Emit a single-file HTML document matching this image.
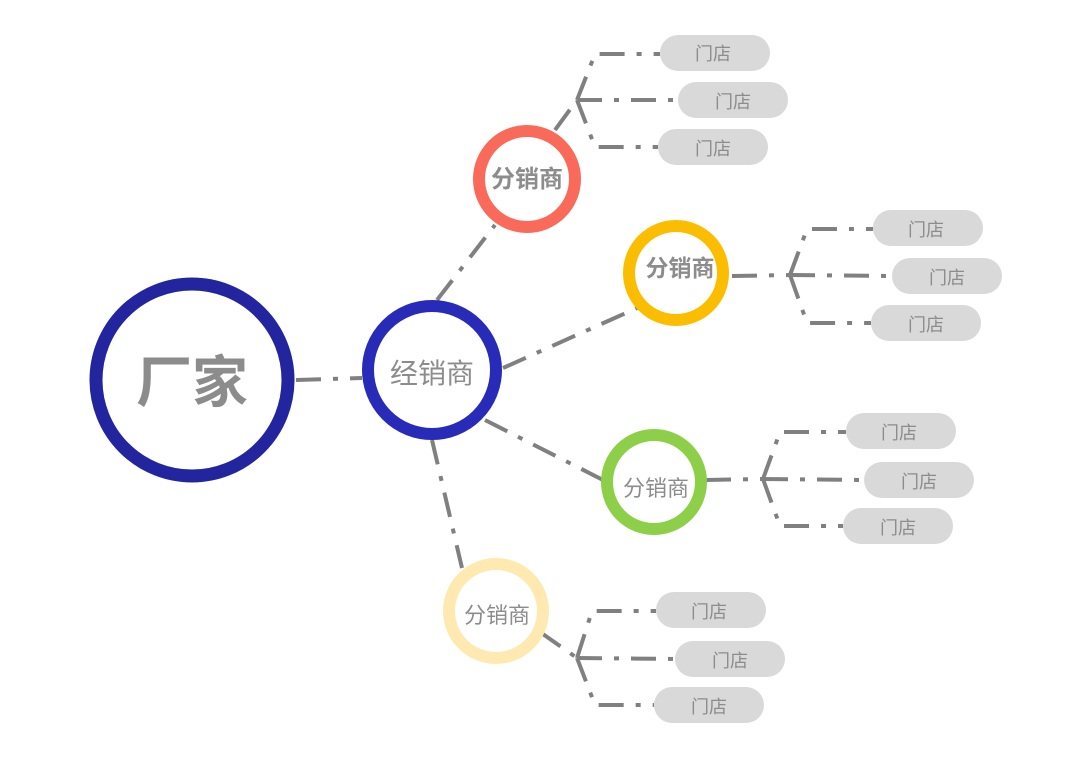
<!DOCTYPE html>
<html><head><meta charset="utf-8"><style>
html,body{margin:0;padding:0;background:#fff;}
svg{display:block;}
text{font-family:"Liberation Sans","Noto Sans CJK SC",sans-serif;fill:#8c8c8c;text-anchor:middle;}
</style></head><body>
<svg width="1084" height="772" viewBox="0 0 1084 772" xmlns="http://www.w3.org/2000/svg">
<g fill="none" stroke="#808080" stroke-width="4" stroke-dasharray="25 12 5 12">
<!-- main -->
<path d="M296 380 L362 378"/>
<path d="M437 300 L495 225"/>
<path d="M503 368 L637 308"/>
<path d="M485 420 L603 480"/>
<path d="M432 440 L462 568"/>
<!-- red -->
<path d="M555 130 L577 100"/>
<path d="M577 100 L595 54 L660 54"/>
<path d="M577 100 L678 100"/>
<path d="M577 100 L595 147 L658 147"/>
<!-- yellow -->
<path d="M732 276 L790 275"/>
<path d="M790 275 L807 229 L873 229"/>
<path d="M790 275 L892 276"/>
<path d="M790 275 L807 323 L871 323"/>
<!-- green -->
<path d="M706 480 L763 479"/>
<path d="M763 479 L780 432 L846 432"/>
<path d="M763 479 L864 480"/>
<path d="M763 479 L780 526 L843 526"/>
<!-- light -->
<path d="M540 632 L577 658"/>
<path d="M577 658 L592 611 L656 611"/>
<path d="M577 658 L675 659"/>
<path d="M577 658 L595 705 L654 705"/>
</g>
<!-- circles -->
<circle cx="192" cy="380" r="96" fill="#fff" stroke="#22259e" stroke-width="13"/>
<circle cx="432" cy="370" r="64" fill="#fff" stroke="#272bb8" stroke-width="12"/>
<circle cx="527" cy="179" r="48" fill="#fff" stroke="#f96a5a" stroke-width="12"/>
<circle cx="676" cy="273" r="47" fill="#fff" stroke="#fbbd00" stroke-width="12"/>
<circle cx="654" cy="482" r="47" fill="#fff" stroke="#8ecf4a" stroke-width="12"/>
<circle cx="496" cy="611" r="47" fill="#fff" stroke="#feeab0" stroke-width="12"/>
<text x="192" y="402" font-size="56" font-weight="bold" fill="#959595">厂家</text>
<text x="432" y="383" font-size="28">经销商</text>
<text x="527" y="187" font-size="24" font-weight="bold">分销商</text>
<text x="680" y="276" font-size="23" font-weight="bold">分销商</text>
<text x="656" y="496" font-size="22">分销商</text>
<text x="497" y="623" font-size="22">分销商</text>
<!-- pills -->
<g fill="#d9d9d9">
<rect x="660" y="35" width="110" height="36" rx="18"/>
<rect x="678" y="82" width="110" height="36" rx="18"/>
<rect x="658" y="129" width="110" height="36" rx="18"/>
<rect x="873" y="210" width="110" height="36" rx="18"/>
<rect x="892" y="258" width="110" height="36" rx="18"/>
<rect x="871" y="305" width="110" height="36" rx="18"/>
<rect x="846" y="413" width="110" height="36" rx="18"/>
<rect x="864" y="462" width="110" height="36" rx="18"/>
<rect x="843" y="508" width="110" height="36" rx="18"/>
<rect x="656" y="592" width="110" height="36" rx="18"/>
<rect x="675" y="641" width="110" height="36" rx="18"/>
<rect x="654" y="687" width="110" height="36" rx="18"/>
</g>
<g font-size="18">
<text x="713" y="60">门店</text>
<text x="733" y="108">门店</text>
<text x="713" y="155">门店</text>
<text x="926" y="236">门店</text>
<text x="947" y="284">门店</text>
<text x="926" y="331">门店</text>
<text x="899" y="439">门店</text>
<text x="919" y="488">门店</text>
<text x="898" y="534">门店</text>
<text x="709" y="618">门店</text>
<text x="730" y="667">门店</text>
<text x="709" y="713">门店</text>
</g>
</svg>
</body></html>
